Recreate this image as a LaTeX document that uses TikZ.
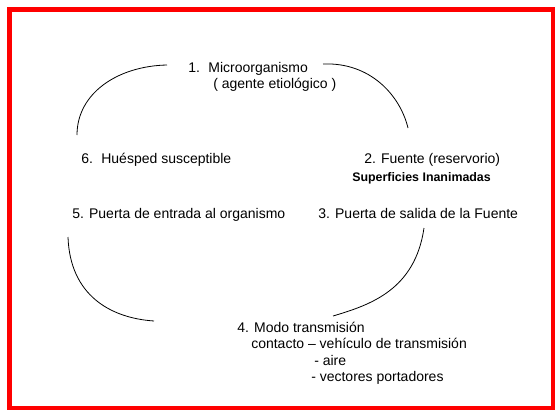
\documentclass[tikz,border=0pt]{standalone}
\usepackage{fontspec}
\setmainfont{Liberation Sans}
\begin{document}
\begin{tikzpicture}[x=0.75pt,y=-0.75pt,
  lbl/.style={anchor=base west,inner sep=0pt,font=\fontsize{10.5}{12}\selectfont},
  blbl/.style={anchor=base west,inner sep=0pt,font=\fontsize{9.3}{11}\selectfont\bfseries},
  arc/.style={draw=black,line width=0.6pt},
  frame/.style={draw=red,line width=3.4pt}]
\useasboundingbox (0,0) rectangle (559,417);
\fill[white] (0,0) rectangle (559,417);
\draw[frame] (9.5,9.5) rectangle (553,408);
% labels
\node[lbl] (n1) at (188,73) {1.\hspace{0.6em}Microorganismo};
\node[lbl] (n1b) at (213,89) {( agente etiológico )};
\node[lbl] (n6) at (81,163) {6.\hspace{0.6em}Huésped susceptible};
\node[lbl] (n2) at (364,163) {2. Fuente (reservorio)};
\node[blbl] (n2b) at (352,181) {Superficies Inanimadas};
\node[lbl] (n5) at (72,218) {5. Puerta de entrada al organismo};
\node[lbl] (n3) at (318,218) {3. Puerta de salida de la Fuente};
\node[lbl] (n4) at (237,332) {4. Modo transmisión};
\node[lbl] (n4a) at (251,348) {contacto -- vehículo de transmisión};
\node[lbl] (n4b) at (314,365) {- aire};
\node[lbl] (n4c) at (311,381) {- vectores portadores};
% arcs
\coordinate (a1s) at (77,135);
\coordinate (a1e) at (167,65);
\coordinate (a2s) at (323,64);
\coordinate (a2e) at (408,128);
\coordinate (a3s) at (424,228);
\coordinate (a3e) at (333,316);
\coordinate (a4s) at (68,237);
\coordinate (a4e) at (154,321);
\draw[arc] (a1s) .. controls (77,93) and (118,66) .. (a1e);
\draw[arc] (a2s) .. controls (370,62) and (400,95) .. (a2e);
\draw[arc] (a3s) .. controls (415,290) and (370,305) .. (a3e);
\draw[arc] (a4s) .. controls (70,295) and (110,318) .. (a4e);
\end{tikzpicture}
\end{document}
